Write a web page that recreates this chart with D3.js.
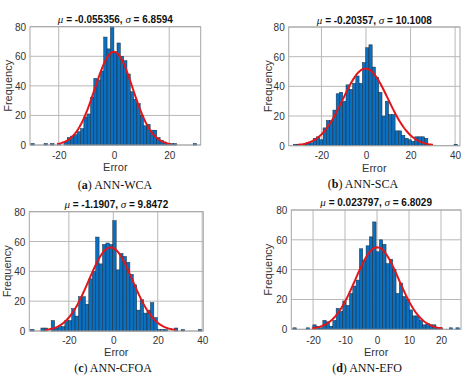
<!DOCTYPE html>
<html>
<head>
<meta charset="utf-8">
<script src="https://cdn.jsdelivr.net/npm/d3@7"></script>
<style>
  body { margin: 0; background: #fff; }
  svg { display: block; }
</style>
</head>
<body>
<div id="chart"></div>
<script>
// --- data ---
const captionLetters = ['a', 'b', 'c', 'd'];
const captionNames = ['ANN-WCA', 'ANN-SCA', 'ANN-CFOA', 'ANN-EFO'];
const mus = ['-0.055356', '-0.20357', '-1.1907', '0.023797'];
const sigmas = ['6.8594', '10.1008', '9.8472', '6.8029'];
const fitPeaks = [63, 52, 56, 55];           // height of red fit curve at mu
const binStarts = [-30.1, -32.5, -37.2, -26.3];
const binWidths = [1.2, 1.47, 1.54, 1.04];
const xDomains = [[-30.4, 31.4], [-34.7, 42.2], [-37.8, 40.5], [-26.8, 26.25]];
const xTicks = [[-20, 0, 20], [-20, 0, 20, 40], [-20, 0, 20, 40], [-20, -10, 0, 10, 20]];
const yTicks = [0, 20, 40, 60, 80];

const countsA = [1, 0, 0, 0, 1, 0, 1, 0, 1, 0,
  2, 5, 6, 7, 9, 11, 19, 21, 32, 45,
  44, 50, 73, 65, 80, 63, 69, 60, 57, 48,
  36, 31, 28, 20, 13, 14, 10, 10, 5, 3,
  2, 1, 1, 1, 0, 0, 0, 0, 0, 1];
const countsB = [1, 1, 0, 1, 2, 2, 5, 6, 4, 12,
  17, 17, 24, 35, 36, 30, 41, 38, 42, 47,
  42, 56, 66, 68, 53, 46, 36, 20, 30, 21,
  21, 10, 10, 7, 5, 4, 3, 6, 6, 6,
  5, 1, 0, 0, 0, 0, 0, 0, 0, 1];
const countsC = [1, 0, 0, 2, 2, 0, 7, 2, 3, 3,
  7, 7, 15, 10, 23, 23, 18, 35, 40, 63,
  45, 58, 59, 58, 74, 41, 52, 50, 46, 38,
  31, 14, 21, 12, 14, 19, 9, 1, 1, 1,
  0, 0, 2, 0, 1, 0, 0, 0, 0, 1];
const countsD = [1, 0, 0, 0, 1, 0, 3, 2, 1, 6,
  5, 2, 6, 14, 12, 19, 16, 24, 29, 33,
  54, 46, 56, 62, 72, 52, 60, 57, 44, 47,
  40, 24, 31, 22, 20, 13, 9, 9, 6, 3,
  4, 3, 3, 1, 1, 0, 0, 1, 0, 1];
const allCounts = [countsA, countsB, countsC, countsD];

// --- layout of each panel (pixels) ---
const panels = [
  { x0: 30, x1: 200.7, y0: 26.7, y1: 145, titleY: 23, tickY: 159, xlabY: 171, capY: 189, capX: 115, ylabX: 12 },
  { x0: 288.7, x1: 460, y0: 27, y1: 145.7, titleY: 24, tickY: 159, xlabY: 172, capY: 188, capX: 363, ylabX: 272 },
  { x0: 29.3, x1: 203.3, y0: 211.7, y1: 331, titleY: 208, tickY: 344, xlabY: 356, capY: 372, capX: 113, ylabX: 11 },
  { x0: 291.3, x1: 461, y0: 210, y1: 329.3, titleY: 206, tickY: 343.5, xlabY: 355.5, capY: 372, capX: 367, ylabX: 272 }
];

const W = 474, H = 390;
const sans = 'Liberation Sans, Arial, sans-serif';
const serif = 'Liberation Serif, Times New Roman, serif';

const svg = d3.select('#chart').append('svg')
  .attr('width', W).attr('height', H);

panels.forEach((p, k) => {
  const x = d3.scaleLinear().domain(xDomains[k]).range([p.x0, p.x1]);
  const y = d3.scaleLinear().domain([0, 80]).range([p.y1, p.y0]);
  const g = svg.append('g');

  // grid
  g.selectAll('.gx').data(xTicks[k]).enter().append('line')
    .attr('x1', d => x(d)).attr('x2', d => x(d))
    .attr('y1', p.y0).attr('y2', p.y1)
    .attr('stroke', '#b8b8b8').attr('stroke-width', 1);
  g.selectAll('.gy').data(yTicks).enter().append('line')
    .attr('x1', p.x0).attr('x2', p.x1)
    .attr('y1', d => y(d)).attr('y2', d => y(d))
    .attr('stroke', '#b8b8b8').attr('stroke-width', 1);

  // histogram bars
  const counts = allCounts[k];
  const bins = counts.map((c, i) => ({
    lo: binStarts[k] + i * binWidths[k],
    hi: binStarts[k] + (i + 1) * binWidths[k],
    c: c
  })).filter(b => b.c > 0);
  g.selectAll('.bar').data(bins).enter().append('rect')
    .attr('x', d => x(d.lo))
    .attr('width', d => x(d.hi) - x(d.lo))
    .attr('y', d => y(d.c))
    .attr('height', d => y(0) - y(d.c))
    .attr('fill', '#0a6fbf')
    .attr('stroke', '#1b2b3a')
    .attr('stroke-width', 0.5);

  // fitted normal curve over mu +/- 3 sigma
  const mu = +mus[k], sd = +sigmas[k];
  const xs = d3.range(0, 121).map(i => mu - 3 * sd + i * 6 * sd / 120);
  const line = d3.line()
    .x(v => x(v))
    .y(v => y(fitPeaks[k] * Math.exp(-((v - mu) ** 2) / (2 * sd * sd))));
  g.append('path')
    .datum(xs)
    .attr('d', line)
    .attr('fill', 'none')
    .attr('stroke', '#e0161b')
    .attr('stroke-width', 2);

  // box
  g.append('rect')
    .attr('x', p.x0).attr('y', p.y0)
    .attr('width', p.x1 - p.x0).attr('height', p.y1 - p.y0)
    .attr('fill', 'none').attr('stroke', '#a6a6a6').attr('stroke-width', 1);

  // axes
  const xAxis = d3.axisBottom(x).tickValues(xTicks[k]).tickSize(0).tickPadding(0)
    .tickFormat(d => String(d));
  const yAxis = d3.axisLeft(y).tickValues(yTicks).tickSize(0).tickPadding(0)
    .tickFormat(d => String(d));

  const gx = g.append('g').attr('transform', `translate(0,${p.tickY})`).call(xAxis);
  gx.select('.domain').remove();
  gx.selectAll('text').attr('dy', 0).attr('y', 0)
    .attr('font-family', sans).attr('font-size', 10).attr('fill', '#333');

  const gy = g.append('g').attr('transform', `translate(${p.x0 - 4},0)`).call(yAxis);
  gy.select('.domain').remove();
  gy.selectAll('text').attr('dy', '0.35em')
    .attr('font-family', sans).attr('font-size', 10).attr('fill', '#333');

  // title
  const cx = (p.x0 + p.x1) / 2;
  const t = g.append('text')
    .attr('x', cx).attr('y', p.titleY)
    .attr('text-anchor', 'middle')
    .attr('font-family', sans).attr('font-size', 10).attr('font-weight', 'bold')
    .attr('fill', '#111');
  t.append('tspan').attr('font-family', serif).attr('font-style', 'italic')
    .attr('font-weight', 'normal').attr('font-size', 11).text('μ');
  t.append('tspan').text(` = ${mus[k]}, `);
  t.append('tspan').attr('font-family', serif).attr('font-style', 'italic')
    .attr('font-weight', 'normal').attr('font-size', 11).text('σ');
  t.append('tspan').text(` = ${sigmas[k]}`);

  // axis labels
  g.append('text')
    .attr('x', cx).attr('y', p.xlabY)
    .attr('text-anchor', 'middle')
    .attr('font-family', sans).attr('font-size', 11).attr('fill', '#333')
    .text('Error');
  g.append('text')
    .attr('transform', `translate(${p.ylabX},${(p.y0 + p.y1) / 2}) rotate(-90)`)
    .attr('text-anchor', 'middle')
    .attr('font-family', sans).attr('font-size', 11).attr('fill', '#333')
    .text('Frequency');

  // caption
  const cap = g.append('text')
    .attr('x', p.capX).attr('y', p.capY)
    .attr('text-anchor', 'middle')
    .attr('font-family', serif).attr('font-size', 12).attr('fill', '#111');
  cap.append('tspan').text('(');
  cap.append('tspan').attr('font-weight', 'bold').text(captionLetters[k]);
  cap.append('tspan').text(') ' + captionNames[k]);
});
</script>
</body>
</html>
